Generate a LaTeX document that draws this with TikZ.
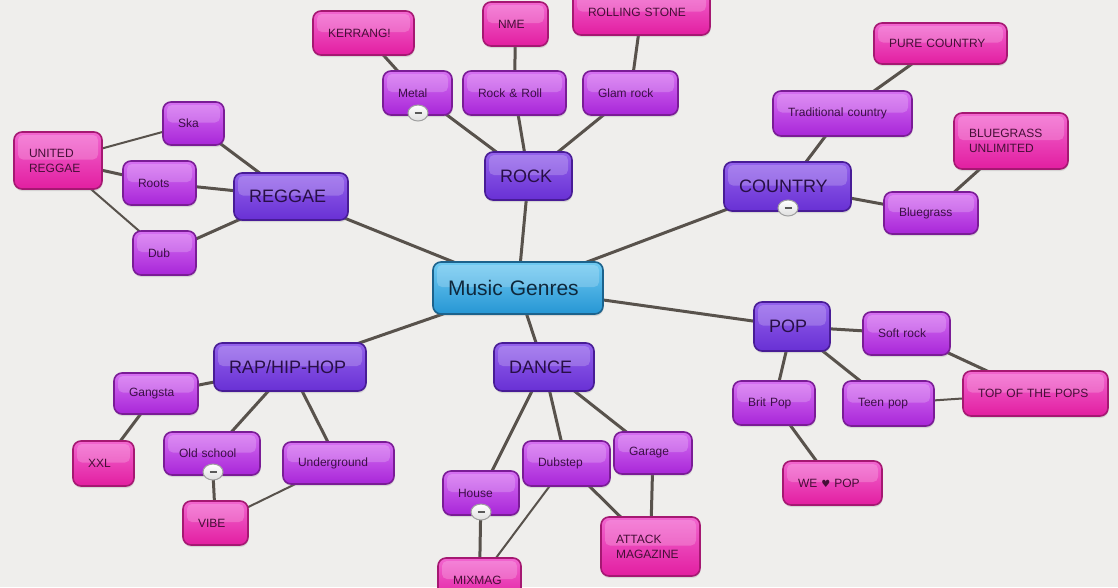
\documentclass[tikz,border=0pt]{standalone}
\usepackage{fontspec}
\setmainfont{Liberation Sans}
\newfontfamily\heartfont{DejaVu Sans}
\usetikzlibrary{shapes.geometric,shadows}
\pgfdeclarelayer{background}
\pgfsetlayers{background,main}

\definecolor{canvas}{RGB}{239,238,236}
\definecolor{linkgray}{RGB}{88,82,76}
\definecolor{hubtop}{RGB}{112,202,242}
\definecolor{hubbot}{RGB}{38,150,212}
\definecolor{hubline}{RGB}{28,98,140}
\definecolor{hubtext}{RGB}{15,40,60}
\definecolor{genretop}{RGB}{148,98,236}
\definecolor{genrebot}{RGB}{104,48,212}
\definecolor{genreline}{RGB}{72,28,150}
\definecolor{genretext}{RGB}{40,15,70}
\definecolor{subtop}{RGB}{214,112,242}
\definecolor{subbot}{RGB}{168,38,216}
\definecolor{subline}{RGB}{122,28,150}
\definecolor{subtext}{RGB}{60,15,70}
\definecolor{magtop}{RGB}{242,102,208}
\definecolor{magbot}{RGB}{226,30,160}
\definecolor{magline}{RGB}{165,24,114}
\definecolor{magtext}{RGB}{70,15,55}

\tikzset{
  bubble/.style={rounded corners=8pt,line width=1.6pt,inner xsep=15pt,inner ysep=0pt,
    align=left,drop shadow={shadow xshift=0.5pt,shadow yshift=-2pt,opacity=0.22},
    path picture={\fill[white,opacity=0.2,rounded corners=5pt]
      ([xshift=4pt,yshift=-3pt]path picture bounding box.north west) rectangle
      ([xshift=-4pt,yshift=1pt]path picture bounding box.east);}},
  hub/.style={bubble,draw=hubline,top color=hubtop,bottom color=hubbot,text=hubtext,
    font=\fontsize{21}{24}\selectfont},
  genre/.style={bubble,draw=genreline,top color=genretop,bottom color=genrebot,
    text=genretext,font=\fontsize{18}{21}\selectfont},
  sub/.style={bubble,draw=subline,top color=subtop,bottom color=subbot,text=subtext,
    font=\fontsize{12}{15}\selectfont},
  mag/.style={bubble,draw=magline,top color=magtop,bottom color=magbot,text=magtext,
    font=\fontsize{12}{15}\selectfont},
  fold/.style={ellipse,draw=gray!75,top color=white,bottom color=gray!25,line width=1pt,
    minimum width=20pt,minimum height=16pt,inner sep=0pt,text=black!65},
  link/.style={draw=linkgray,line width=3pt},
  thinlink/.style={draw=linkgray,line width=2pt}
}

\begin{document}
\begin{tikzpicture}[x=1pt,y=-1pt]
  \useasboundingbox (0,0) rectangle (1118,587);
  \clip (0,0) rectangle (1118,587);

  \node[hub,text width=140pt,minimum height=52pt] (music) at (518,288) {Music Genres};

  \node[genre,text width=57pt,minimum height=48pt] (rock) at (528.5,176) {ROCK};
  \node[genre,text width=84pt,minimum height=47pt] (reggae) at (291,196.5) {REGGAE};
  \node[genre,text width=97pt,minimum height=49pt] (country) at (787.5,186.5) {COUNTRY};
  \node[genre,text width=46pt,minimum height=49pt] (pop) at (792,326.5) {POP};
  \node[genre,text width=122pt,minimum height=48pt] (rap) at (290,367) {RAP/HIP-HOP};
  \node[genre,text width=70pt,minimum height=48pt] (dance) at (544,367) {DANCE};

  \node[sub,text width=39pt,minimum height=44pt] (metal) at (417.5,93) {Metal};
  \node[sub,text width=73pt,minimum height=44pt] (rockroll) at (514.5,93) {Rock \& Roll};
  \node[sub,text width=65pt,minimum height=44pt] (glam) at (630.5,93) {Glam rock};
  \node[sub,text width=31pt,minimum height=43pt] (ska) at (193.5,123.5) {Ska};
  \node[sub,text width=43pt,minimum height=44pt] (roots) at (159.5,183) {Roots};
  \node[sub,text width=33pt,minimum height=44pt] (dub) at (164.5,253) {Dub};
  \node[sub,text width=109pt,minimum height=45pt] (trad) at (842.5,113.5) {Traditional country};
  \node[sub,text width=64pt,minimum height=42pt] (bluegrass) at (931,213) {Bluegrass};
  \node[sub,text width=57pt,minimum height=43pt] (softrock) at (906.5,333.5) {Soft rock};
  \node[sub,text width=52pt,minimum height=44pt] (britpop) at (774,403) {Brit Pop};
  \node[sub,text width=61pt,minimum height=45pt] (teenpop) at (888.5,403.5) {Teen pop};
  \node[sub,text width=54pt,minimum height=41pt] (gangsta) at (156,393.5) {Gangsta};
  \node[sub,text width=66pt,minimum height=43pt] (oldschool) at (212,453.5) {Old school};
  \node[sub,text width=81pt,minimum height=42pt] (underground) at (338.5,463) {Underground};
  \node[sub,text width=46pt,minimum height=44pt] (house) at (481,493) {House};
  \node[sub,text width=57pt,minimum height=45pt] (dubstep) at (566.5,463.5) {Dubstep};
  \node[sub,text width=48pt,minimum height=42pt] (garage) at (653,453) {Garage};

  \node[mag,text width=71pt,minimum height=44pt] (kerrang) at (363.5,33) {KERRANG!};
  \node[mag,text width=35pt,minimum height=44pt] (nme) at (515.5,24) {NME};
  \node[mag,text width=107pt,minimum height=45pt] (rolling) at (641.5,12.5) {ROLLING STONE};
  \node[mag,text width=103pt,minimum height=41pt] (purecountry) at (940.5,43.5) {PURE COUNTRY};
  \node[mag,text width=58pt,minimum height=57pt] (unitedreggae) at (58,160.5) {UNITED\\REGGAE};
  \node[mag,text width=84pt,minimum height=56pt] (bgunlimited) at (1011,141) {BLUEGRASS\\UNLIMITED};
  \node[mag,text width=115pt,minimum height=45pt] (topofpops) at (1035.5,393.5) {TOP OF THE POPS};
  \node[mag,text width=69pt,minimum height=44pt] (welovepop) at (832.5,483) {WE {\heartfont\fontsize{10}{12}\selectfont ♥} POP};
  \node[mag,text width=31pt,minimum height=45pt] (xxl) at (103.5,463.5) {XXL};
  \node[mag,text width=35pt,minimum height=44pt] (vibe) at (215.5,523) {VIBE};
  \node[mag,text width=69pt,minimum height=59pt] (attack) at (650.5,546.5) {ATTACK\\MAGAZINE};
  \node[mag,text width=53pt,minimum height=44pt] (mixmag) at (479.5,580) {MIXMAG};

  \node[fold] (metalfold) at (418,113) {\rule{7pt}{2pt}};
  \node[fold] (countryfold) at (788,208) {\rule{7pt}{2pt}};
  \node[fold] (oldfold) at (213,472) {\rule{7pt}{2pt}};
  \node[fold] (housefold) at (481,512) {\rule{7pt}{2pt}};

  \begin{pgfonlayer}{background}
    \fill[canvas] (0,0) rectangle (1118,587);
    \foreach \a/\b in {music/rock,music/reggae,music/country,music/pop,music/rap,music/dance,
        rock/metal,rock/rockroll,rock/glam,metal/kerrang,rockroll/nme,glam/rolling,
        reggae/ska,reggae/roots,reggae/dub,unitedreggae/roots,
        country/trad,country/bluegrass,trad/purecountry,bluegrass/bgunlimited,
        pop/softrock,pop/britpop,pop/teenpop,softrock/topofpops,britpop/welovepop,
        rap/gangsta,rap/oldschool,rap/underground,gangsta/xxl,oldschool/vibe,
        dance/house,dance/dubstep,dance/garage,house/mixmag,garage/attack,dubstep/attack}
      \draw[link] (\a.center) -- (\b.center);
    \foreach \a/\b in {unitedreggae/ska,unitedreggae/dub,teenpop/topofpops,
        underground/vibe,dubstep/mixmag}
      \draw[thinlink] (\a.center) -- (\b.center);
  \end{pgfonlayer}
\end{tikzpicture}
\end{document}
